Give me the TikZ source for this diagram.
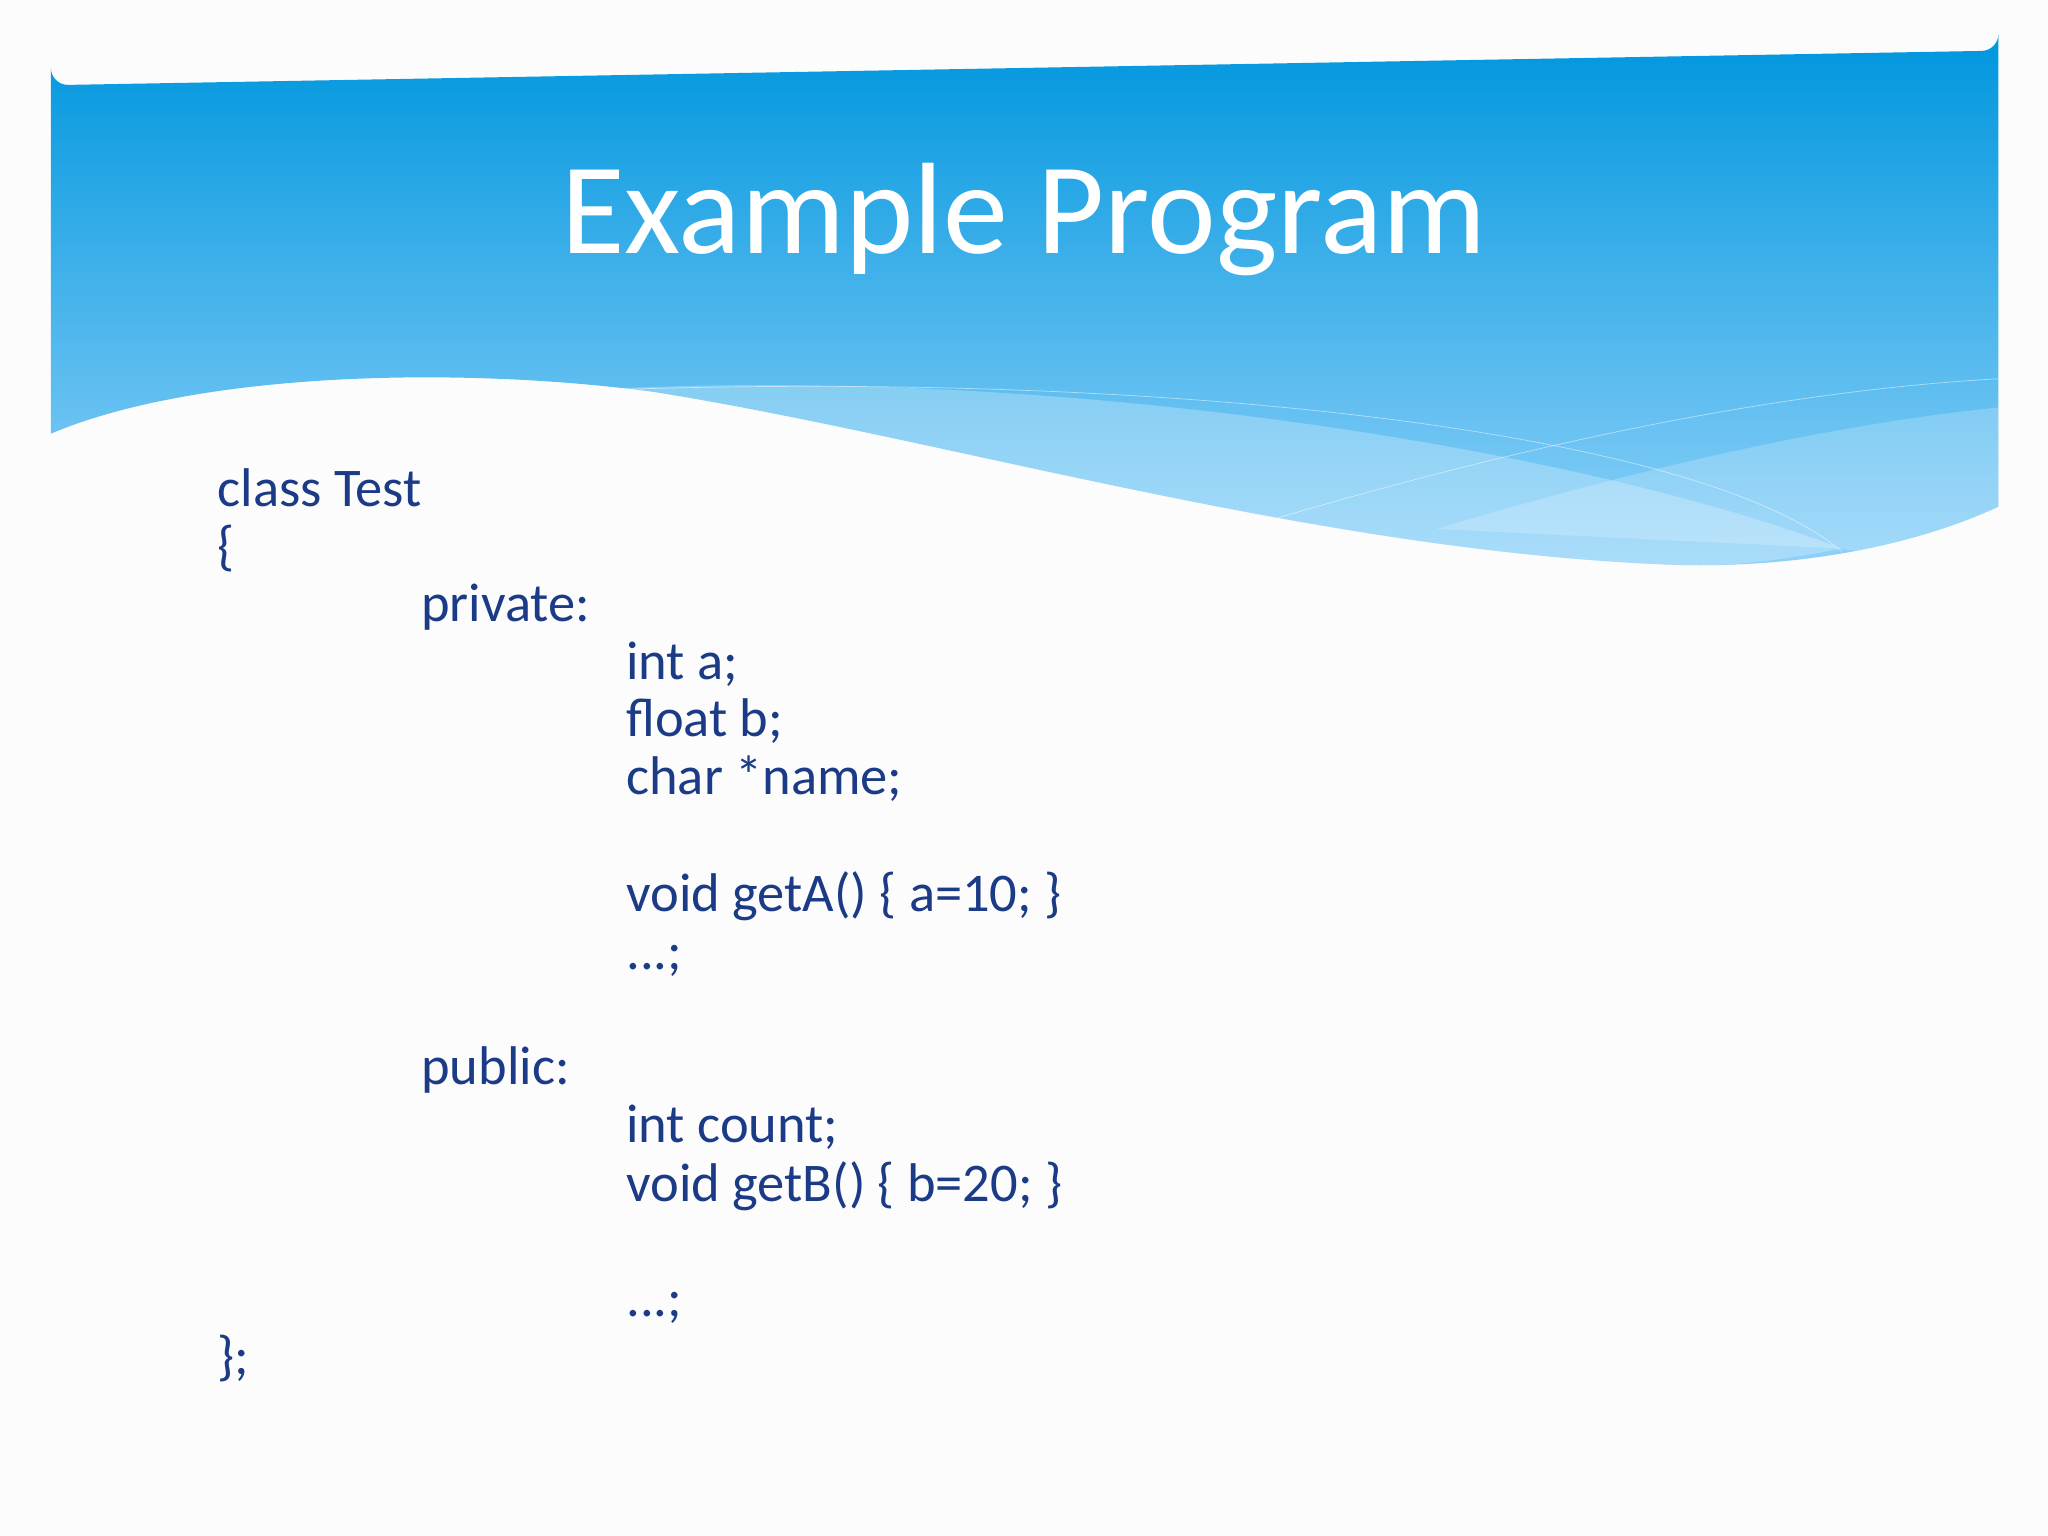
\documentclass[tikz,border=0pt]{standalone}
\usepackage{fontspec}
\setmainfont{Carlito}
\usetikzlibrary{positioning}
\definecolor{codeblue}{HTML}{1B3B86}
\definecolor{skytop}{HTML}{0096DE}
\definecolor{skybot}{HTML}{8FD2F9}
\tikzset{code/.style={anchor=base west, inner sep=0pt, text=codeblue, font=\fontsize{15.5}{18}\selectfont}}
\begin{document}
\begin{tikzpicture}[x=0.01306cm, y=-0.01306cm]
\useasboundingbox (0,0) rectangle (1568,1176);
\fill[white!98!gray] (0,0) rectangle (1568,1176);
% header band with wavy lower edge
\shade[top color=skytop, bottom color=skybot]
  (39,332) -- (39,52) arc (180:90:13) -- (1517,39) arc (90:0:13) -- (1530,388)
  .. controls (1450,425) and (1350,436) .. (1270,432)
  .. controls (1000,420) and (720,335) .. (500,300)
  .. controls (350,280) and (150,285) .. (39,332) -- cycle;
% lighter swooshes
\fill[white, opacity=0.25] (460,298) .. controls (800,280) and (1200,340) .. (1410,420)
  .. controls (1340,434) and (1300,434) .. (1270,432)
  .. controls (1000,420) and (720,335) .. (460,298) -- cycle;
\fill[white, opacity=0.2] (1100,405) .. controls (1250,360) and (1400,325) .. (1530,312)
  -- (1530,388) .. controls (1470,420) and (1430,425) .. (1410,420) -- cycle;
\draw[white, opacity=0.5, very thin] (480,298) .. controls (900,285) and (1300,330) .. (1410,422);
\draw[white, opacity=0.5, very thin] (960,402) .. controls (1150,345) and (1350,300) .. (1530,290);
% title
\node[text=white, font=\fontsize{37}{44}\selectfont] (title) at (784,168) {Example Program};
% code listing
\node[code] (cls) at (166,388) {class Test};
\node[code] (open) at (166,432) {\{};
\node[code] (priv) at (322,476) {private:};
\node[code] (ia) at (479,520) {int a;};
\node[code] (fb) at (479,564) {float b;};
\node[code] (cn) at (479,608) {char *name;};
\node[code] (ga) at (479,698) {void getA() \{ a=10; \}};
\node[code] (d1) at (479,742) {...;};
\node[code] (pub) at (322,830) {public:};
\node[code] (ic) at (479,875) {int count;};
\node[code] (gb) at (479,920) {void getB() \{ b=20; \}};
\node[code] (d2) at (479,1008) {...;};
\node[code] (close) at (166,1052) {\};};
\end{tikzpicture}
\end{document}
